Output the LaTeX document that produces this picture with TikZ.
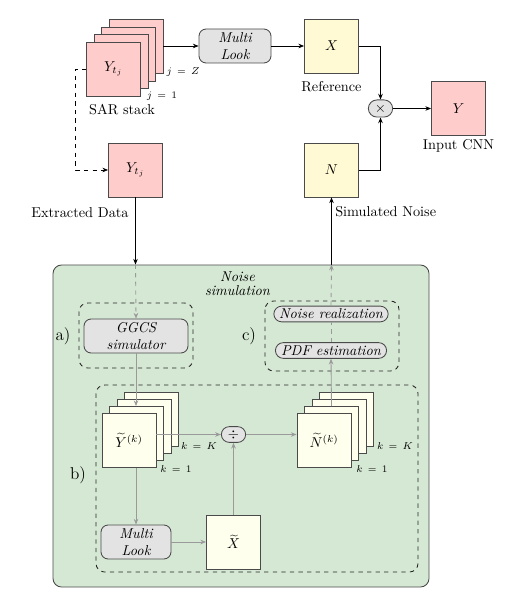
\documentclass[tikz,border=0pt]{standalone}
\usetikzlibrary{arrows.meta,shapes.misc}
\definecolor{pinkf}{HTML}{FFCCCC}
\definecolor{yelf}{HTML}{FFFAD4}
\definecolor{ivoryf}{HTML}{FFFFEE}
\definecolor{greenf}{HTML}{D5E8D4}
\definecolor{grayf}{HTML}{E3E3E3}
\definecolor{edgec}{HTML}{4A4A4A}
\definecolor{garrc}{HTML}{9A9A9A}
\tikzset{
  sq/.style={draw=edgec, line width=0.6pt, minimum width=37.8pt, minimum height=37.8pt, inner sep=0pt},
  pinksq/.style={sq, fill=pinkf},
  yelsq/.style={sq, fill=yelf},
  ivsq/.style={sq, fill=ivoryf},
  mlbox/.style={draw=edgec, line width=0.6pt, fill=grayf, rounded corners=5pt, inner sep=0pt, align=center, font=\itshape},
  pill/.style={draw=edgec, line width=0.6pt, fill=grayf, rounded rectangle, inner sep=1pt},
  dbox/.style={draw=black!85, dashed, line width=0.6pt, rounded corners=6pt},
  lbl/.style={inner sep=0pt},
  arr/.style={-{Stealth[length=4pt,width=3.2pt]}, line width=0.5pt},
  garr/.style={arr, draw=garrc, line width=0.6pt},
  gdash/.style={garr, dashed},
}
\begin{document}
\begin{tikzpicture}[x=0.7pt, y=-0.7pt]
\useasboundingbox (0,0) rectangle (510,602);
% ---- top part ----
\node[pinksq] (sar3) at (136,46) {};
\node[pinksq] (sar2) at (128.5,54) {};
\node[pinksq] (sar1) at (121,61.5) {};
\node[pinksq] (sar0) at (113.5,69) {$Y_{t_j}$};
\node[lbl, font=\scriptsize] (jz) at (183,72) {$j\,=\,Z$};
\node[lbl, font=\scriptsize] (j1) at (162,96) {$j\,=\,1$};
\node[lbl] (sarl) at (122,110) {SAR stack};

\node[mlbox, minimum width=50.4pt, minimum height=23.8pt] (ml) at (235,46) {Multi\\Look};
\node[yelsq] (X) at (331.5,46) {$X$};
\node[lbl] (refl) at (331.5,87) {Reference};
\node[pill, minimum width=19pt, minimum height=12pt] (mul) at (380.5,108.5) {$\times$};
\node[pinksq] (Y) at (458.5,108.5) {$Y$};
\node[lbl] (cnnl) at (458.5,146) {Input CNN};
\node[yelsq] (N) at (331.5,170) {$N$};
\node[lbl, anchor=west] (siml) at (335,212) {Simulated Noise};
\node[pinksq] (Yt) at (135.5,170) {$Y_{t_j}$};
\node[lbl] (extl) at (80,213) {Extracted Data};

\draw[arr] (sar3.east) -- (ml.west);
\draw[arr] (ml.east) -- (X.west);
\draw[arr] (X.east) -| (mul.north);
\draw[arr] (N.east) -| (mul.south);
\draw[arr] (mul.east) -- (Y.west);
\coordinate (dc) at (75.5,69);
\draw[arr, dashed] (sar0.west) -- (dc) |- (Yt.west);

% ---- green box ----
\node[draw=edgec, line width=0.6pt, fill=greenf, rounded corners=6pt, minimum width=263.2pt, minimum height=225.4pt, inner sep=0pt] (green) at (241,426) {};
\node[lbl, align=center, font=\itshape] (nsl) at (237.5,283.5) {Noise\\[-2pt]simulation};

\draw[dbox] (79,303) rectangle (193,368);
\draw[dbox] (265,301) rectangle (399,371);
\draw[dbox] (96,385) rectangle (418,572);
\node[lbl, font=\large] (al) at (63,336) {a)};
\node[lbl, font=\large] (cl) at (249,336) {c)};
\node[lbl, font=\large] (bl) at (78,475) {b)};

\node[mlbox, minimum width=72.8pt, minimum height=23.8pt] (ggcs) at (136,336) {GGCS\\simulator};
\node[pill, font=\itshape, minimum width=82pt, minimum height=11pt] (nr) at (331,314) {Noise realization};
\node[pill, font=\itshape, minimum width=79.8pt, minimum height=11pt] (pdf) at (331,350.5) {PDF estimation};

\node[ivsq] (yk3) at (151.5,419) {};
\node[ivsq] (yk2) at (144,426) {};
\node[ivsq] (yk1) at (136.5,433.5) {};
\node[ivsq] (yk0) at (129,440.5) {$\widetilde{Y}^{(k)}$};
\node[lbl, font=\scriptsize] (ykK) at (199,446) {$k\,=\,K$};
\node[lbl, font=\scriptsize] (yk1l) at (176,469) {$k\,=\,1$};

\node[ivsq] (nk3) at (346,419) {};
\node[ivsq] (nk2) at (339,426) {};
\node[ivsq] (nk1) at (331.5,433.5) {};
\node[ivsq] (nk0) at (324,440.5) {$\widetilde{N}^{(k)}$};
\node[lbl, font=\scriptsize] (nkK) at (395,446) {$k\,=\,K$};
\node[lbl, font=\scriptsize] (nk1l) at (372,469) {$k\,=\,1$};

\node[pill, minimum width=19pt, minimum height=11pt] (div) at (233.5,434.5) {$\div$};
\node[mlbox, minimum width=49pt, minimum height=23.8pt] (ml2) at (136,542) {Multi\\Look};
\node[ivsq] (Xt) at (233.5,542) {$\widetilde{X}$};

% connectors crossing green box
\draw[arr] (Yt.south) -- (Yt.south |- green.north);
\draw[gdash] (Yt.south |- green.north) -- (ggcs.north);
\draw[arr] (N.south |- green.north) -- (N.south);
\draw[gdash] (nr.north) -- (N.south |- green.north);
\draw[draw=garrc, line width=0.6pt, dashed] (pdf.north) -- (nr.south);
% inner connectors
\draw[garr] (ggcs.south) -- (ggcs.south |- yk1.north);
\draw[garr] (yk0.east |- div.west) -- (div.west);
\draw[garr] (div.east) -- (nk0.west |- div.east);
\draw[garr] (ml2.north |- yk0.south) -- (ml2.north);
\draw[garr] (ml2.east) -- (Xt.west);
\draw[garr] (Xt.north) -- (div.south);
\draw[garr] (nk1.north) -- (pdf.south);
\end{tikzpicture}
\end{document}
